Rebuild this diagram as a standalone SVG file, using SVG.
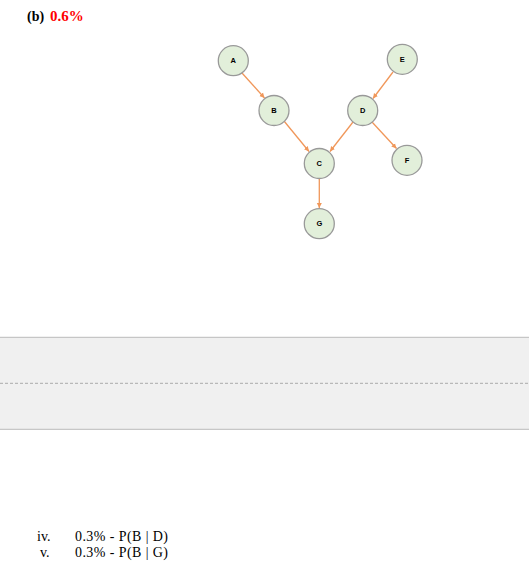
<svg xmlns="http://www.w3.org/2000/svg" width="529" height="562" viewBox="0 0 529 562">
<style>
.node circle{fill:#e2efda;stroke:#999;stroke-width:1.3}
.node text{font-family:"Liberation Sans",Arial,sans-serif;font-size:7.5px;font-weight:bold;text-anchor:middle;fill:#000}
.edge{stroke:#f0975a;stroke-width:1.3;fill:none;marker-end:url(#ah)}
.ser{font-family:"Liberation Serif","Times New Roman",serif;font-size:14px;fill:#000}
</style>
<defs>
<marker id="ah" markerWidth="6" markerHeight="6" refX="5" refY="3" orient="auto" markerUnits="userSpaceOnUse">
<path d="M0,0.5 L5,3 L0,5.5 z" fill="#f0975a"/>
</marker>
</defs>
<rect width="529" height="562" fill="#fff"/>
<text x="27" y="21" class="ser" style="font-weight:bold">(b)</text>
<text x="50" y="21" class="ser" style="font-weight:bold;fill:#ff0000;font-size:15px">0.6%</text>
<g id="connectors">
<line class="edge" x1="242" y1="73" x2="264.5" y2="98"/>
<line class="edge" x1="284" y1="121" x2="309" y2="151.5"/>
<line class="edge" x1="353" y1="122" x2="330" y2="151.5"/>
<line class="edge" x1="393" y1="72" x2="373" y2="98.5"/>
<line class="edge" x1="372" y1="122" x2="396.5" y2="148.5"/>
<line class="edge" x1="319.3" y1="179" x2="319.3" y2="208"/>
</g>
<g id="A" class="node"><circle cx="233.3" cy="60.7" r="15"/><text x="233.3" y="63.3">A</text></g>
<g id="E" class="node"><circle cx="402.3" cy="59.3" r="15"/><text x="402.3" y="61.9">E</text></g>
<g id="B" class="node"><circle cx="274" cy="110.5" r="15"/><text x="274" y="113.1">B</text></g>
<g id="D" class="node"><circle cx="362.7" cy="110.5" r="15"/><text x="362.7" y="113.1">D</text></g>
<g id="C" class="node"><circle cx="319.3" cy="163.5" r="15"/><text x="319.3" y="166.1">C</text></g>
<g id="F" class="node"><circle cx="407" cy="160.3" r="15"/><text x="407" y="162.9">F</text></g>
<g id="G" class="node"><circle cx="319.3" cy="223.7" r="15"/><text x="319.3" y="226.3">G</text></g>
<rect x="-1" y="337.3" width="531" height="92" fill="#f0f0f0" stroke="#bbb" stroke-width="1"/>
<line x1="0" y1="383.3" x2="529" y2="383.3" stroke="#aaa" stroke-width="1" stroke-dasharray="3,2"/>
<text x="37" y="541" class="ser">iv.</text>
<text x="75" y="541" class="ser" textLength="93">0.3% - P(B | D)</text>
<text x="40" y="557" class="ser">v.</text>
<text x="75" y="557" class="ser" textLength="93">0.3% - P(B | G)</text>
</svg>
